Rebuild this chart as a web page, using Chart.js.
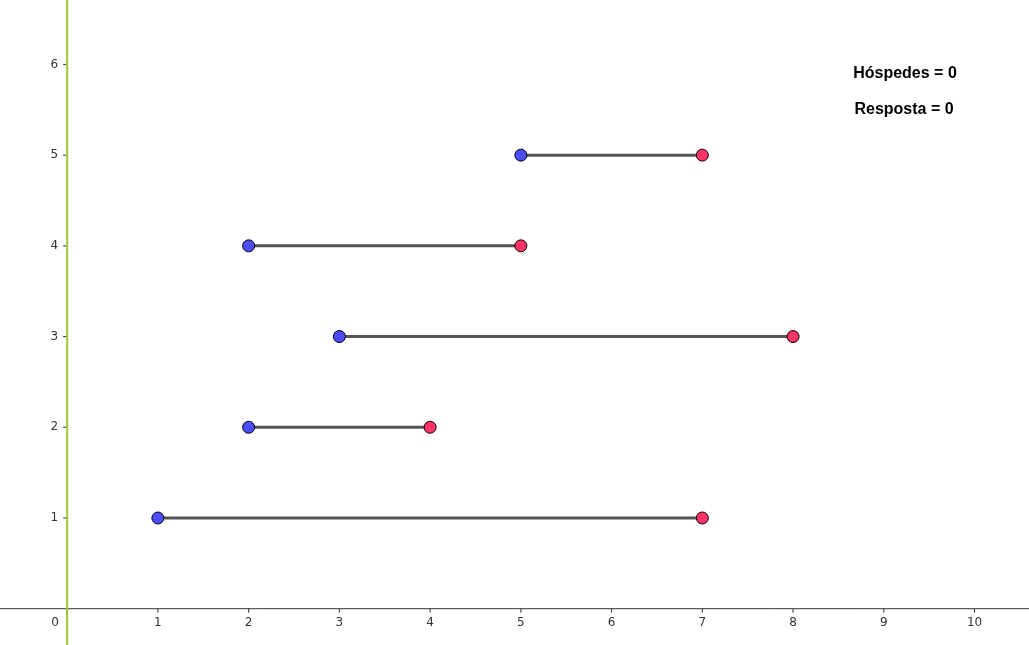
<!DOCTYPE html>
<html>
<head>
<meta charset="utf-8">
<script src="https://cdn.jsdelivr.net/npm/chart.js@4/dist/chart.umd.min.js"></script>
<style>
  html, body { margin: 0; padding: 0; background: #fff; }
  #wrap { width: 1029px; height: 645px; }
</style>
</head>
<body>
<div id="wrap"><canvas id="chart"></canvas></div>
<script>
// one segment per row: start (blue) -> end (red)
const rows = [1, 2, 3, 4, 5];
const starts = [1, 2, 3, 2, 5];
const ends = [7, 4, 8, 5, 7];
const xTicks = [0, 1, 2, 3, 4, 5, 6, 7, 8, 9, 10];
const yTicks = [1, 2, 3, 4, 5, 6];
const labels = ['Hóspedes = 0', 'Resposta = 0'];

const datasets = rows.map((r, i) => ({
  data: [{x: starts[i], y: r}, {x: ends[i], y: r}],
  borderColor: '#555555',
  borderWidth: 3,
  pointRadius: 6,
  pointHoverRadius: 6,
  pointBorderWidth: 1,
  pointBorderColor: '#000',
  pointBackgroundColor: ['#4d4dff', '#ff3366']
}));

const axesPlugin = {
  id: 'axes',
  beforeDatasetsDraw(chart) {
    const ctx = chart.ctx, xs = chart.scales.x, ys = chart.scales.y;
    const x0 = xs.getPixelForValue(0), y0 = ys.getPixelForValue(0);
    ctx.save();
    // x axis
    ctx.strokeStyle = '#333';
    ctx.lineWidth = 1;
    ctx.beginPath();
    ctx.moveTo(0, y0); ctx.lineTo(chart.width, y0);
    xTicks.forEach(t => {
      const px = xs.getPixelForValue(t);
      ctx.moveTo(px, y0); ctx.lineTo(px, y0 + 4);
    });
    yTicks.forEach(t => {
      const py = ys.getPixelForValue(t);
      ctx.moveTo(x0 - 4, py); ctx.lineTo(x0, py);
    });
    ctx.stroke();
    // y axis
    ctx.strokeStyle = '#99cc33';
    ctx.lineWidth = 2;
    ctx.beginPath();
    ctx.moveTo(x0, 0); ctx.lineTo(x0, chart.height);
    ctx.stroke();
    // tick labels
    ctx.fillStyle = '#333';
    ctx.font = '12px "DejaVu Sans", sans-serif';
    ctx.textAlign = 'center';
    ctx.textBaseline = 'middle';
    xTicks.forEach(t => {
      const px = t === 0 ? x0 - 12 : xs.getPixelForValue(t);
      ctx.fillText(String(t), px, y0 + 14);
    });
    ctx.textAlign = 'right';
    yTicks.forEach(t => {
      ctx.fillText(String(t), x0 - 9, ys.getPixelForValue(t));
    });
    // texts
    ctx.fillStyle = '#000';
    ctx.font = 'bold 16px "Liberation Sans", Arial, sans-serif';
    ctx.textAlign = 'center';
    ctx.fillText(labels[0], 905, 74);
    ctx.fillText(labels[1], 904, 110);
    ctx.restore();
  }
};

new Chart(document.getElementById('chart'), {
  type: 'line',
  data: { datasets },
  options: {
    responsive: true,
    maintainAspectRatio: false,
    animation: false,
    layout: { padding: 0, autoPadding: false },
    plugins: { legend: { display: false }, tooltip: { enabled: false } },
    scales: {
      x: { type: 'linear', min: -0.74, max: 10.6, display: false },
      y: { type: 'linear', min: -0.4, max: 6.71, display: false }
    }
  },
  plugins: [axesPlugin]
});
</script>
</body>
</html>
